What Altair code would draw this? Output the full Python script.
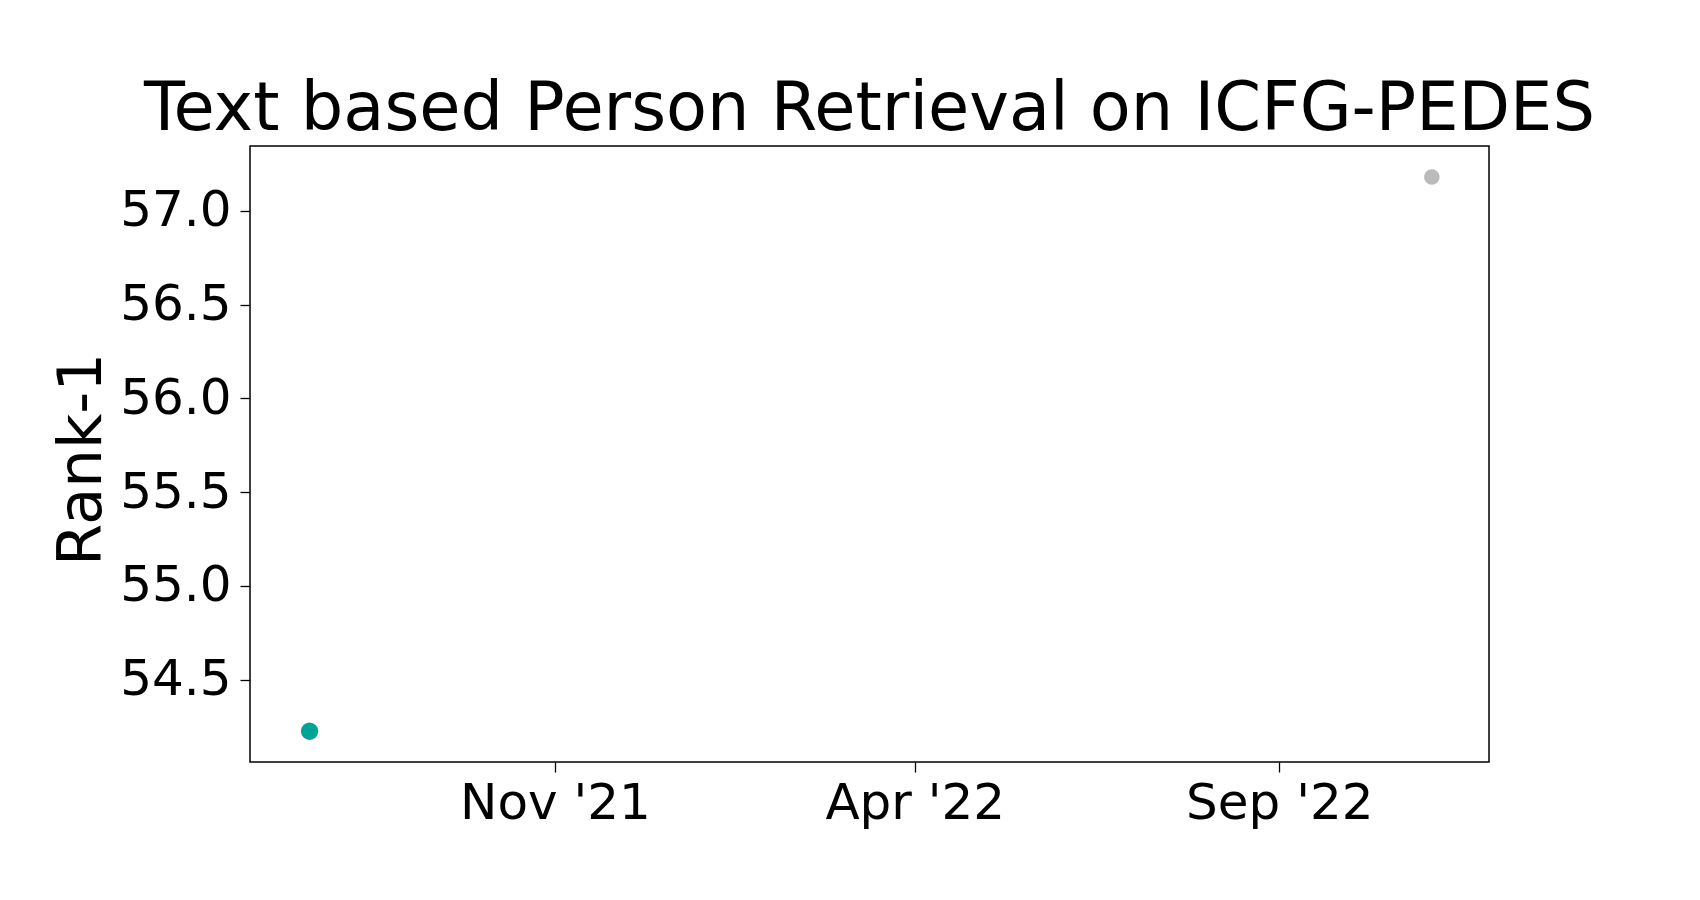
import altair as alt
import pandas as pd

dates = ["2021-07-21", "2022-11-04"]
rank1 = [54.225, 57.18]
methods = ["A", "B"]
colors = ["#00a497", "#bbbbbb"]
sizes = [300, 240]
tick_dates = ["2021-11-01", "2022-04-01", "2022-09-01"]
y_ticks = [54.5, 55.0, 55.5, 56.0, 56.5, 57.0]

df = pd.DataFrame({"date": dates, "rank1": rank1, "method": methods, "size": sizes})

FONT = "DejaVu Sans"

def dt(s):
    y, m, d = (int(v) for v in s.split("-"))
    return alt.DateTime(year=y, month=m, date=d, utc=True)

chart = alt.Chart(df).mark_circle(opacity=1).encode(
    x=alt.X(
        "date:T",
        scale=alt.Scale(type="utc", domain=[dt("2021-06-26"), dt("2022-11-28")]),
        axis=alt.Axis(
            values=[dt(t) for t in tick_dates],
            labelExpr="utcFormat(datum.value, \"%b '%y\")",
            title=None,
            grid=False,
            domain=False,
            tickSize=10,
            tickWidth=1.3,
            tickColor="black",
            labelFontSize=50,
            labelFont=FONT,
            labelColor="black",
            labelPadding=6,
            labelLimit=500,
        ),
    ),
    y=alt.Y(
        "rank1:Q",
        scale=alt.Scale(domain=[54.061, 57.345], nice=False, zero=False),
        axis=alt.Axis(
            values=y_ticks,
            format=".1f",
            title="Rank-1",
            titleFontSize=61,
            titleFont=FONT,
            titleFontWeight="normal",
            titleColor="black",
            titleAngle=270,
            titleAlign="center",
            titleBaseline="alphabetic",
            titleX=-150,
            titleY=313,
            grid=False,
            domain=False,
            tickSize=10,
            tickWidth=1.3,
            tickColor="black",
            labelFontSize=50,
            labelFont=FONT,
            labelColor="black",
            labelPadding=9,
            labelLimit=500,
        ),
    ),
    color=alt.Color("method:N", scale=alt.Scale(domain=methods, range=colors), legend=None),
    size=alt.Size("size:Q", scale=None, legend=None),
).properties(
    width=1239,
    height=616,
    background="white",
    title=alt.TitleParams(
        "Text based Person Retrieval on ICFG-PEDES",
        fontSize=67,
        font=FONT,
        fontWeight="normal",
        color="black",
        anchor="middle",
        baseline="alphabetic",
        offset=-51,
    ),
    autosize=alt.AutoSizeParams(type="none"),
    padding={"left": 242, "top": 138, "right": 150, "bottom": 100},
).configure_view(
    stroke="black",
    strokeWidth=1.5,
)

chart.save("out.html", embed_options={"renderer": "svg", "actions": False})
